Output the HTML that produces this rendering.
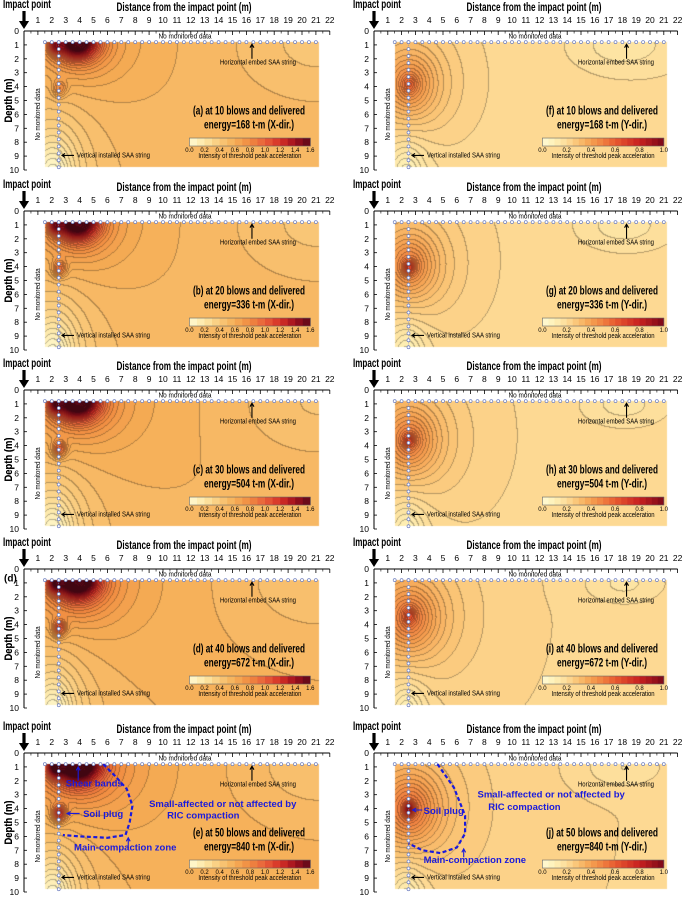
<!DOCTYPE html>
<html><head><meta charset="utf-8"><style>
body{margin:0;background:#fff}
#wrap{position:relative;width:685px;height:898px;overflow:hidden}
canvas,svg{position:absolute;left:0;top:0}
text{font-family:"Liberation Sans",sans-serif}
</style></head><body>
<div id="wrap">
<canvas id="cv" width="685" height="898"></canvas>
<svg id="sv" width="685" height="898" xmlns="http://www.w3.org/2000/svg"></svg>
</div>
<script>
// panel layout data
const panelIds = ['a','b','c','d','e','f','g','h','i','j'];
const panelEnergy = [168,336,504,672,840,168,336,504,672,840];
const panelBlows = [10,20,30,40,50,10,20,30,40,50];
const panelDir = ['X','X','X','X','X','Y','Y','Y','Y','Y'];
// field sources per panel: [x(m), depth(m), amplitude, spreadX, spreadY, kind(0=broad,1=local)]
const panelBase = [0.53,0.53,0.54,0.55,0.56, 0.2,0.205,0.21,0.215,0.22];
const panelSources = [
 [[3.8,0.8,0.9,1.5,1.3,0],[3.8,0.9,0.5,1.3,0.9,1],[2.2,1.0,0.4,0.5,0.6,1],[2.5,4.1,0.25,0.5,0.6,1],[2.0,10.4,-0.55,1.5,2.8,0],[21,0.8,-0.1,6,4,1]],
 [[3.8,0.8,0.95,1.5,1.4,0],[3.8,0.9,0.5,1.3,0.9,1],[2.2,1.0,0.45,0.5,0.6,1],[2.5,4.1,0.35,0.5,0.6,1],[2.0,10.4,-0.55,1.5,2.8,0],[21,0.8,-0.1,6,4,1]],
 [[3.8,0.8,1.0,1.6,1.4,0],[3.8,0.9,0.55,1.3,0.9,1],[2.2,1.0,0.5,0.5,0.6,1],[2.5,4.2,0.4,0.5,0.6,1],[2.0,10.4,-0.55,1.5,2.8,0],[21,0.8,-0.1,6,4,1]],
 [[3.8,0.8,1.05,1.6,1.5,0],[3.8,0.9,0.55,1.3,0.9,1],[2.2,1.0,0.55,0.5,0.6,1],[2.5,4.2,0.45,0.5,0.6,1],[2.0,10.4,-0.55,1.5,2.8,0],[21,0.8,-0.1,6,4,1]],
 [[3.8,0.8,1.1,1.7,1.5,0],[3.8,0.9,0.6,1.3,0.9,1],[2.2,1.0,0.65,0.5,0.6,1],[2.5,4.3,0.55,0.5,0.6,1],[2.0,10.4,-0.55,1.5,2.8,0],[21,0.8,-0.1,6,4,1]],
 [[2.5,3.8,0.3,1.9,2.3,0],[2.5,3.8,0.1,0.5,0.6,1],[2.3,10.3,-0.16,1.2,2.2,0],[18,1,-0.05,3,1.5,1]],
 [[2.5,3.9,0.31,1.9,2.3,0],[2.5,4.0,0.2,0.45,0.5,1],[2.3,10.3,-0.16,1.2,2.2,0],[18,1,-0.05,3,1.5,1]],
 [[2.5,3.6,0.32,1.9,2.3,0],[2.5,3.6,0.15,0.45,0.5,1],[2.3,10.3,-0.16,1.2,2.2,0],[18,1,-0.05,3,1.5,1]],
 [[2.5,3.5,0.33,2.0,2.4,0],[2.5,3.3,0.12,0.45,0.6,1],[2.3,10.3,-0.16,1.2,2.2,0],[18,1,-0.05,3,1.5,1]],
 [[2.5,4.0,0.35,2.0,2.4,0],[2.5,4.0,0.35,0.35,0.45,1],[2.3,10.3,-0.16,1.2,2.2,0],[18,1,-0.05,3,1.5,1]]
];
const xTicks = [0,1,2,3,4,5,6,7,8,9,10,11,12,13,14,15,16,17,18,19,20,21,22];
const depthTicks = [0,1,2,3,4,5,6,7,8,9,10];
const cbLabelsX = ['0.0','0.2','0.4','0.6','0.8','1.0','1.2','1.4','1.6'];
const cbLabelsY = ['0.0','0.2','0.4','0.6','0.8','1.0'];
const colorsX = [[0,'#fffad2'],[0.2,'#fde7a6'],[0.4,'#f9c97a'],[0.6,'#f5ae56'],[0.8,'#f08a40'],[1.0,'#e8603a'],[1.2,'#d63026'],[1.4,'#a0101e'],[1.6,'#5a0818']];
const colorsY = [[0,'#fffbd4'],[0.1,'#fef0b6'],[0.2,'#fddc98'],[0.3,'#f9c070'],[0.4,'#f5a050'],[0.5,'#f08040'],[0.6,'#e85a30'],[0.8,'#c82020'],[1.0,'#7a0818']];

const layoutRows=[31,211,390,569,753];
const layoutCols=[24,374];
const SC=[13.9,13.8], SY=13.9;
const NS="http://www.w3.org/2000/svg";
const sv=document.getElementById('sv');
const ctx=document.getElementById('cv').getContext('2d');
function hex(h){return [parseInt(h.slice(1,3),16),parseInt(h.slice(3,5),16),parseInt(h.slice(5,7),16)];}
function cmap(stops,v){
  if(v<=stops[0][0])return hex(stops[0][1]);
  for(let i=1;i<stops.length;i++){if(v<=stops[i][0]){const a=hex(stops[i-1][1]),b=hex(stops[i][1]);const t=(v-stops[i-1][0])/(stops[i][0]-stops[i-1][0]);return a.map((c,k)=>Math.round(c+(b[k]-c)*t));}}
  return hex(stops[stops.length-1][1]);
}
function el(tag,attrs,parent){const e=document.createElementNS(NS,tag);for(const k in attrs)e.setAttribute(k,attrs[k]);(parent||sv).appendChild(e);return e;}
function txt(s,x,y,size,opts,parent){const o=Object.assign({'font-size':size,x:x,y:y},opts||{});const t=el('text',o,parent);t.textContent=s;return t;}

panelIds.forEach((id,p)=>{
  const col=p<5?0:1,row=p%5;
  const ox=layoutCols[col],oy=layoutRows[row],sx=SC[col];
  const X=m=>ox+m*sx, Y=d=>oy+d*SY;
  const isX=panelDir[p]==='X';
  const stops=isX?colorsX:colorsY;
  const step=isX?0.05:0.025;
  const g=el('g',{});
  
  
  const field=(xm,dm)=>{let v=panelBase[p];for(const s of panelSources[p]){const r2=((xm-s[0])/s[3])**2+((dm-s[1])/s[4])**2;v+=s[5]?s[2]*Math.exp(-r2):s[2]/(1+r2);}return Math.max(0,v);};
  const x0=Math.round(X(1.5)),x1=Math.round(X(21.2)),y0=Math.round(Y(0.8)),y1=Math.round(Y(9.8));
  const w=x1-x0,h=y1-y0;
  const img=ctx.createImageData(w,h);
  const band=new Int16Array(w*h);
  for(let j=0;j<h;j++)for(let i=0;i<w;i++){
    const v=field((x0+i-ox)/sx,(y0+j-oy)/SY);
    band[j*w+i]=Math.floor(v/step);
  }
  for(let j=0;j<h;j++)for(let i=0;i<w;i++){
    const b=band[j*w+i];
    let c=cmap(stops,(b+0.5)*step);
    const edge=(i>0&&band[j*w+i-1]!==b)||(j>0&&band[(j-1)*w+i]!==b);
    if(edge)c=c.map(v=>Math.round(v*0.72));
    const k=(j*w+i)*4;img.data[k]=c[0];img.data[k+1]=c[1];img.data[k+2]=c[2];img.data[k+3]=255;
  }
  ctx.putImageData(img,x0,y0);
  el('line',{x1:X(0),y1:Y(0),x2:X(22),y2:Y(0),stroke:'#000','stroke-width':1},g);
  el('line',{x1:X(0),y1:Y(0),x2:X(0),y2:Y(10),stroke:'#000','stroke-width':1},g);
  xTicks.forEach(t=>{
    el('line',{x1:X(t),y1:Y(0),x2:X(t),y2:Y(0)+4,stroke:'#000','stroke-width':0.8},g);
    if(t<22)el('line',{x1:X(t+0.5),y1:Y(0),x2:X(t+0.5),y2:Y(0)+2.5,stroke:'#000','stroke-width':0.6},g);
    if(t>0)txt(String(t),X(t),Y(0)-8,8.5,{'text-anchor':'middle'},g);
  });
  depthTicks.forEach(t=>{
    el('line',{x1:X(0),y1:Y(t),x2:X(0)+3,y2:Y(t),stroke:'#000','stroke-width':0.8},g);
    txt(String(t),X(0)-5,Y(t)+3,8.5,{'text-anchor':'end'},g);
  });
  txt('Impact point',ox-21,oy-23,11.5,{'font-weight':'bold',textLength:48,lengthAdjust:'spacingAndGlyphs'},g);
  el('path',{d:`M${ox-1.6},${oy-20}h3.2v10h3.5l-5.1,8l-5.1,-8h3.5z`,fill:'#000'},g);
  txt('Distance from the impact point (m)',ox+160,oy-20,12,{'font-weight':'bold','text-anchor':'middle',textLength:135,lengthAdjust:'spacingAndGlyphs'},g);
  txt('Depth (m)',0,0,11,{'font-weight':'bold','text-anchor':'middle',transform:`translate(12,${Y(5)}) rotate(-90)`,textLength:44,lengthAdjust:'spacingAndGlyphs'},g);
  txt('No monitored data',0,0,7.5,{'text-anchor':'middle',transform:`translate(${ox+16},${Y(6)}) rotate(-90)`,textLength:52,lengthAdjust:'spacingAndGlyphs'},g);
  txt('No monitored data',ox+161,Y(0.55),7.5,{'text-anchor':'middle',textLength:53,lengthAdjust:'spacingAndGlyphs'},g);
  for(let m=1.5;m<=21.21;m+=0.5)el('circle',{cx:X(m),cy:Y(0.8),r:1.5,fill:'#fff',stroke:'#7080c0','stroke-width':0.7},g);
  el('line',{x1:X(2.5),y1:Y(0.8),x2:X(2.5),y2:Y(9.8),stroke:'#8090c8','stroke-width':0.5,'stroke-dasharray':'1.5,1'},g);
  for(let d=0.8;d<=9.81;d+=0.5)el('circle',{cx:X(2.5),cy:Y(d),r:1.5,fill:'#fff',stroke:'#7080c0','stroke-width':0.7},g);
  const hx=col?18.3:16.4;
  el('path',{d:`M${X(hx)},${Y(2)}V${Y(0.95)}M${X(hx)-2},${Y(1.2)}L${X(hx)},${Y(0.95)}L${X(hx)+2},${Y(1.2)}`,stroke:'#000','stroke-width':1.1,fill:'none'},g);
  txt('Horizontal embed SAA string',ox+(col?204:196),Y(2.4),7,{textLength:76,lengthAdjust:'spacingAndGlyphs'},g);
  el('path',{d:`M${ox+50},${Y(8.95)}H${ox+38}M${ox+41},${Y(8.95)-2}L${ox+38},${Y(8.95)}L${ox+41},${Y(8.95)+2}`,stroke:'#000','stroke-width':1.1,fill:'none'},g);
  txt('Vertical installed SAA string',ox+53,Y(9.1),7,{textLength:73,lengthAdjust:'spacingAndGlyphs'},g);
  const tcx=ox+(col?228:225);
  txt(`(${id}) at ${panelBlows[p]} blows and delivered`,tcx,Y(6.0),12,{'font-weight':'bold','text-anchor':'middle',textLength:112,lengthAdjust:'spacingAndGlyphs'},g);
  txt(`energy=${panelEnergy[p]} t-m (${panelDir[p]}-dir.)`,tcx,Y(7.0),12,{'font-weight':'bold','text-anchor':'middle',textLength:90,lengthAdjust:'spacingAndGlyphs'},g);
  const cb=el('g',{},g);
  
  
  const cbx0=X(col?12.2:11.9),cbx1=X(col?21.0:20.6),cby=Y(7.7),cbh=8;
  const maxV=isX?1.6:1.0,nb=isX?16:20;
  for(let i=0;i<nb;i++){const v=(i+0.5)/nb*maxV;const c=cmap(stops,v);
    el('rect',{x:cbx0+(cbx1-cbx0)*i/nb,y:cby,width:(cbx1-cbx0)/nb+0.3,height:cbh,fill:`rgb(${c})`},cb);}
  el('rect',{x:cbx0,y:cby,width:cbx1-cbx0,height:cbh,fill:'none',stroke:'#666','stroke-width':0.6},cb);
  const labs=isX?cbLabelsX:cbLabelsY;
  labs.forEach((l,i)=>txt(l,cbx0+(cbx1-cbx0)*i/(labs.length-1),Y(8.7),6,{'text-anchor':'middle'},cb));
  txt('Intensity of threshold peak acceleration',(cbx0+cbx1)/2,Y(9.15),7,{'text-anchor':'middle',textLength:103,lengthAdjust:'spacingAndGlyphs'},cb);
  if(id==='d')txt('(d)',4,Y(0.9),10,{'font-weight':'bold'},g);
  const blue='#1a1adc';
  const dash=(pts)=>{const pth=el('path',{d:'M'+pts.map(q=>X(q[0])+','+Y(q[1])).join('L'),fill:'none',stroke:blue,'stroke-width':2.2,'stroke-dasharray':'4,2.5'},g);};
  const arrow=(xa,ya,xb,yb)=>{const ang=Math.atan2(yb-ya,xb-xa);el('path',{d:`M${xa},${ya}L${xb},${yb}M${xb-4*Math.cos(ang-0.5)},${yb-4*Math.sin(ang-0.5)}L${xb},${yb}L${xb-4*Math.cos(ang+0.5)},${yb-4*Math.sin(ang+0.5)}`,stroke:blue,'stroke-width':1.1,fill:'none'},g);};
  const bt=(s,x,y,anchor)=>txt(s,x,y,9.5,{'font-weight':'bold',fill:blue,'text-anchor':anchor||'start'},g);
  if(id==='e'){
    dash([[5.7,0.8],[6.6,1.7],[7.4,2.6],[7.8,3.8],[7.6,5.0],[7.3,5.9],[6.0,6.1],[4.0,6.0],[2.8,5.9]]);
    bt('Shear bands',X(3.0),Y(2.4));arrow(X(3.9),Y(2.0),X(3.9),Y(1.0));
    bt('Soil plug',X(4.25),Y(4.6));arrow(X(4.0),Y(4.35),X(3.1),Y(4.35));
    bt('Small-affected or not affected by',X(9.0),Y(3.9));bt('RIC compaction',X(12.9),Y(4.7),'middle');
    bt('Main-compaction zone',X(3.6),Y(7.0));arrow(X(7.5),Y(6.9),X(7.5),Y(6.1));
  }
  if(id==='j'){
    dash([[4.6,0.8],[5.8,2.5],[6.6,4.5],[6.6,5.8],[6.0,6.8],[4.8,7.2],[3.5,7.0],[2.5,6.5]]);
    bt('Soil plug',X(3.6),Y(4.4));arrow(X(3.5),Y(4.1),X(2.8),Y(4.1));
    bt('Small-affected or not affected by',X(7.5),Y(3.2));bt('RIC compaction',X(10.9),Y(4.1),'middle');
    bt('Main-compaction zone',X(3.6),Y(7.9));arrow(X(6.5),Y(7.5),X(6.5),Y(6.9));
  }
});
</script>
</body></html>
